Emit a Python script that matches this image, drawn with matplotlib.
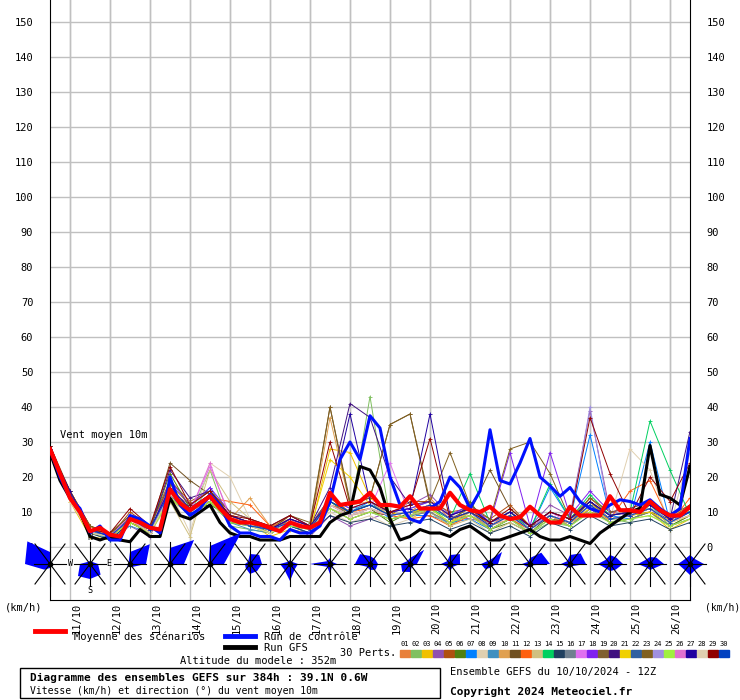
import matplotlib
matplotlib.use("Agg")
import matplotlib.pyplot as plt
import numpy as np
from matplotlib.patches import Polygon, Rectangle

mean = [28,21,14,10,4.5,5.5,3.5,3,8,7,5.5,5,16.5,12.5,10.5,12.5,14.5,11,8,7,7,6.5,5.5,4.5,7,6,5.5,7,15.5,12,12.5,13,15.5,12,
        12,11.5,14.5,11,11,11,15.5,12,10.5,10,11.5,9,8,8.5,11.5,9,7,7,11.5,9,9,9,14.5,10.5,10.5,10,13,10.5,9,9,11.5]
control = [28,20,14,11,4,6,2,2,9,8,6,4,20,12,9,11,15,12,6,4,4,3,3,2,5,4,4,6,13,25,30,25,37.5,34,
           20,12,8,7,11,13,20,17,11,16,33.5,19,18,24,31,20,17.5,14.5,17,13,11,10,12,13.5,13,12,13.5,11,9,11,31]
gfs = [27,19,14,10,3,2,3,2,1.5,5,3,3,14,9,8,10,12,7,4,3,3,2,2,2,3,3,3,3,7,9,10,23,22,17,
       8,2,3,5,4,4,3,5,6,4,2,2,3,4,5,3,2,2,3,2,1,4,6,8,10,11,29,15,14,12,23]

perts = [
[28,15,5,3,8,5,15,11,14,9,6,5,8,6,14,10,12,9,10,14,8,9,6,10,5,9,7,12,8,9,11,7,10],
[27,14,4,2,7,4,17,9,22,6,5,4,6,5,12,9,43,8,9,12,6,10,5,8,4,7,6,10,8,7,12,6,9],
[29,13,3,2,9,4,18,10,15,7,7,3,5,4,28,27,14,10,8,11,7,12,6,9,5,10,8,13,7,8,10,5,8],
[28,15,5,4,6,3,16,12,13,8,6,6,7,3,9,6,8,10,12,15,9,8,7,9,6,12,9,39,10,9,12,8,11],
[27,16,6,3,10,6,19,13,16,10,8,5,9,6,11,8,10,9,13,13,10,11,8,12,6,8,7,14,9,10,13,8,12],
[28,14,4,3,8,5,21,11,12,9,7,4,8,5,13,9,11,7,10,10,6,13,5,7,4,9,6,11,7,8,10,6,9],
[29,15,5,2,7,4,15,10,17,8,6,5,6,4,12,10,13,8,9,9,7,8,5,8,5,17,8,32,9,8,30,7,10],
[28,13,4,3,9,5,16,4,24,20,8,4,7,5,10,7,9,6,8,12,8,10,6,9,4,8,7,12,8,28,22,6,27],
[27,14,5,2,6,4,14,9,13,7,5,4,6,4,14,11,12,10,11,13,9,12,7,10,5,10,8,13,9,10,12,7,11],
[28,16,6,3,8,5,15,10,14,8,14,6,8,5,37,12,13,9,10,10,7,9,6,8,5,9,6,11,8,9,11,7,9],
[29,15,5,4,8,5,24,19,15,9,7,5,9,6,40,13,14,35,38,12,8,10,22,11,6,8,7,13,8,9,10,8,10],
[28,16,6,3,7,5,15,10,14,13,12,6,7,5,12,10,11,9,8,9,6,9,5,8,5,9,7,10,8,16,19,7,14],
[27,14,4,3,8,4,13,3,22,13,8,4,6,5,11,9,10,8,9,10,6,8,4,7,4,8,6,12,7,8,9,6,8],
[28,15,5,3,8,5,16,11,15,8,7,5,7,5,13,10,12,9,10,11,8,21,7,10,5,18,8,15,9,10,36,22,9],
[28,14,4,2,7,4,15,9,13,7,6,4,6,4,9,7,8,6,7,8,5,7,4,6,3,7,5,9,6,7,8,5,7],
[27,15,5,3,8,5,14,10,14,8,6,5,7,5,11,8,10,8,9,10,7,9,5,8,4,8,6,11,7,8,10,6,8],
[28,14,4,3,9,5,17,10,23,9,7,5,8,5,12,9,11,24,9,11,7,10,6,9,5,10,7,12,8,9,11,7,9],
[29,15,5,3,8,4,19,12,17,10,8,6,9,6,14,11,13,10,11,13,9,12,7,27,6,27,9,16,10,11,13,8,11],
[28,16,6,4,9,5,16,11,15,9,7,5,8,6,14,10,12,9,10,12,8,11,6,9,5,9,7,12,8,9,11,7,10],
[28,15,5,3,8,5,22,14,16,9,7,5,8,6,17,41,37,20,12,13,9,11,7,10,6,10,8,13,9,10,12,8,33],
[27,14,5,3,7,4,14,9,13,8,6,4,7,5,25,20,12,9,10,11,7,10,6,9,5,9,7,11,8,9,10,7,9],
[28,15,5,3,8,5,16,10,14,8,6,5,7,5,13,10,12,9,10,12,8,10,6,9,5,9,7,12,8,9,11,7,10],
[29,16,6,4,9,6,18,12,16,10,8,6,9,7,40,12,14,35,38,13,27,12,8,28,30,21,8,14,10,11,13,9,12],
[28,15,5,3,8,5,15,10,14,8,6,5,7,5,12,9,11,9,10,12,8,10,6,9,5,9,7,40,8,9,11,7,10],
[27,14,4,3,7,4,14,9,13,7,6,4,6,5,11,8,10,8,9,11,7,9,5,8,4,8,6,10,7,8,9,6,8],
[28,15,5,3,8,5,16,10,24,8,7,5,7,5,12,9,11,9,10,12,8,10,6,9,5,9,7,12,8,9,11,7,10],
[28,16,5,3,8,5,17,11,15,9,7,5,8,6,13,38,13,10,11,38,9,11,7,10,6,10,8,13,9,10,12,8,10],
[27,14,4,3,8,4,15,10,14,8,6,4,7,5,12,9,11,9,10,12,8,10,6,9,5,9,7,12,8,9,11,7,9],
[29,15,5,4,11,6,23,12,16,9,8,6,9,6,30,11,13,10,12,31,8,10,7,11,6,10,8,37,21,9,20,13,24],
[28,15,5,3,8,5,16,10,14,8,6,5,7,5,13,10,12,9,10,12,8,10,6,9,5,9,7,12,8,9,11,7,10],
]
pert_colors = ["#e8803a","#80c060","#f0c000","#9050b0","#b05010","#508010","#0080ff","#e0d0b0","#4090c0","#e0a050",
               "#705020","#ff6010","#d0c080","#00d060","#204060","#708090","#e070f0","#8020f0","#806030","#401080",
               "#f0d000","#3060a0","#806020","#a090e0","#a0f040","#e070d0","#2000a0","#e0d0b0","#900000","#0040c0"]
dates = ["11/10","12/10","13/10","14/10","15/10","16/10","17/10","18/10","19/10","20/10","21/10","22/10","23/10","24/10","25/10","26/10"]
# wind rose radii (px) per 24h, directions N, NE, E, SE, S, SW, W, NW
roses = [
[12,0,0,0,4,8,25,32],[3,3,8,15,15,17,10,3],[12,28,16,4,2,4,2,2],[16,34,14,2,2,2,2,2],[18,44,14,2,2,2,2,2],
[10,13,12,10,10,6,5,3],[4,3,8,7,17,8,10,3],[6,3,7,3,10,4,20,4],[8,7,8,8,6,4,15,14],[6,20,7,3,8,11,9,4],
[9,14,10,4,7,4,9,4],[4,17,8,3,4,7,9,4],[6,16,20,2,3,4,8,3],[9,15,16,3,4,4,9,4],[9,9,13,8,7,6,12,6],
[7,9,14,6,6,5,12,6],[9,7,14,8,11,8,12,7]]

plt.rcParams['font.family'] = ['DejaVu Sans Mono']
fig = plt.figure(figsize=(7.4, 7.0), dpi=100)
ax = fig.add_axes([50/740, 1-600/700, 640/740, 600/700])
ax.set_xlim(0, 384)
ax.set_ylim(-53/3.5, 150 + 22/3.5)
hx = 0.6   # hours per px
vy = 1/3.5 # units per px

t6 = np.arange(len(mean)) * 6
t12 = np.arange(len(perts[0])) * 12
for p, c in zip(perts, pert_colors):
    ax.plot(t12, p, color=c, lw=0.7, marker='+', ms=3, mew=0.6, zorder=2)
ax.plot(t6, gfs, color='black', lw=2.2, zorder=3)
ax.plot(t6, control, color='#0010ff', lw=2.2, zorder=4)
ax.plot(t6, mean, color='#ff0000', lw=3, zorder=5)

ax.set_yticks(range(0, 151, 10))
ax.set_xticks(np.arange(12, 384, 24))
ax.set_xticklabels([])
ax.grid(True, color='#c0c0c0', lw=1)
ax.set_axisbelow(True)
ax.tick_params(length=0, labelsize=7.5, labelright=True, pad=12)
ax.spines['top'].set_visible(False)
ax.axhspan(-53/3.5, -0.3, color='white', zorder=1)
for xv in np.arange(12, 384, 24):
    ax.axvline(xv, color='#c0c0c0', lw=1, zorder=1.1)

# wind roses
yc = -17/3.5
ang = np.deg2rad([90, 45, 0, -45, -90, -135, 180, 135])
spokes = [(0, 22), (15, 20), (16, 0), (15, -20), (0, -22), (-15, -20), (-16, 0), (-15, 20)]
for k, r in enumerate(roses):
    xc = k * 24
    r = np.array(r, float)
    pts = np.c_[xc + r*np.cos(ang)*hx, yc + r*np.sin(ang)*vy]
    ax.add_patch(Polygon(pts, closed=True, color='#0000ff', zorder=6, clip_on=False, lw=0))
    for dx, dy in spokes:
        ax.plot([xc, xc + dx*hx], [yc, yc + dy*vy], color='black', lw=0.8, zorder=7, clip_on=False)
    ax.plot([xc], [yc], 'ko', ms=3, zorder=8, clip_on=False)
ax.text(24, yc+22/3.5, "N", fontsize=6, ha='center', va='bottom', zorder=9)
ax.text(24, yc-22/3.5, "S", fontsize=6, ha='center', va='top', zorder=9)
ax.text(24-19*hx, yc, "W", fontsize=6, ha='center', va='center', zorder=9)
ax.text(24+19*hx, yc, "E", fontsize=6, ha='center', va='center', zorder=9)
ax.text(6, 32, "Vent moyen 10m", fontsize=7.5, va='center')

for xv, d in zip(np.arange(12, 384, 24), dates):
    ax.text(xv+4, -15.8, d, rotation=90, fontsize=7.5, ha='center', va='top', clip_on=False)

# overlay for legend texts
ov = fig.add_axes([0, 0, 1, 1])
ov.set_xlim(0, 740); ov.set_ylim(700, 0); ov.axis('off')
fs = 7.5
ov.text(5, 607, "(km/h)", fontsize=fs, va='center')
ov.text(705, 607, "(km/h)", fontsize=7, va='center')
ov.plot([35, 65], [631, 631], color='#ff0000', lw=3.5)
ov.text(74, 637, "Moyenne des scénarios", fontsize=fs, va='center')
ov.plot([225, 255], [636, 636], color='#0010ff', lw=3.5)
ov.text(264, 637, "Run de contrôle", fontsize=fs, va='center')
ov.plot([225, 255], [647, 647], color='black', lw=3.5)
ov.text(264, 648, "Run GFS", fontsize=fs, va='center')
ov.text(340, 653, "30 Perts.", fontsize=fs, va='center')
for k, c in enumerate(pert_colors):
    ov.text(400 + 11*k + 5, 644, f"{k+1:02d}", fontsize=5, ha='center', va='center')
    ov.add_patch(Rectangle((400 + 11*k, 650), 10, 7, color=c))
ov.text(180, 661, "Altitude du modele : 352m", fontsize=fs, va='center')
ov.add_patch(Rectangle((20, 668), 420, 30, fill=False, ec='black', lw=1))
ov.text(30, 678, "Diagramme des ensembles GEFS sur 384h : 39.1N 0.6W", fontsize=8, weight='bold', va='center')
ov.text(30, 691, "Vitesse (km/h) et direction (°) du vent moyen 10m", fontsize=7, va='center')
ov.text(450, 672, "Ensemble GEFS du 10/10/2024 - 12Z", fontsize=7.5, va='center')
ov.text(450, 692, "Copyright 2024 Meteociel.fr", fontsize=8, weight='bold', va='center')

fig.savefig("out.png", dpi=100)
